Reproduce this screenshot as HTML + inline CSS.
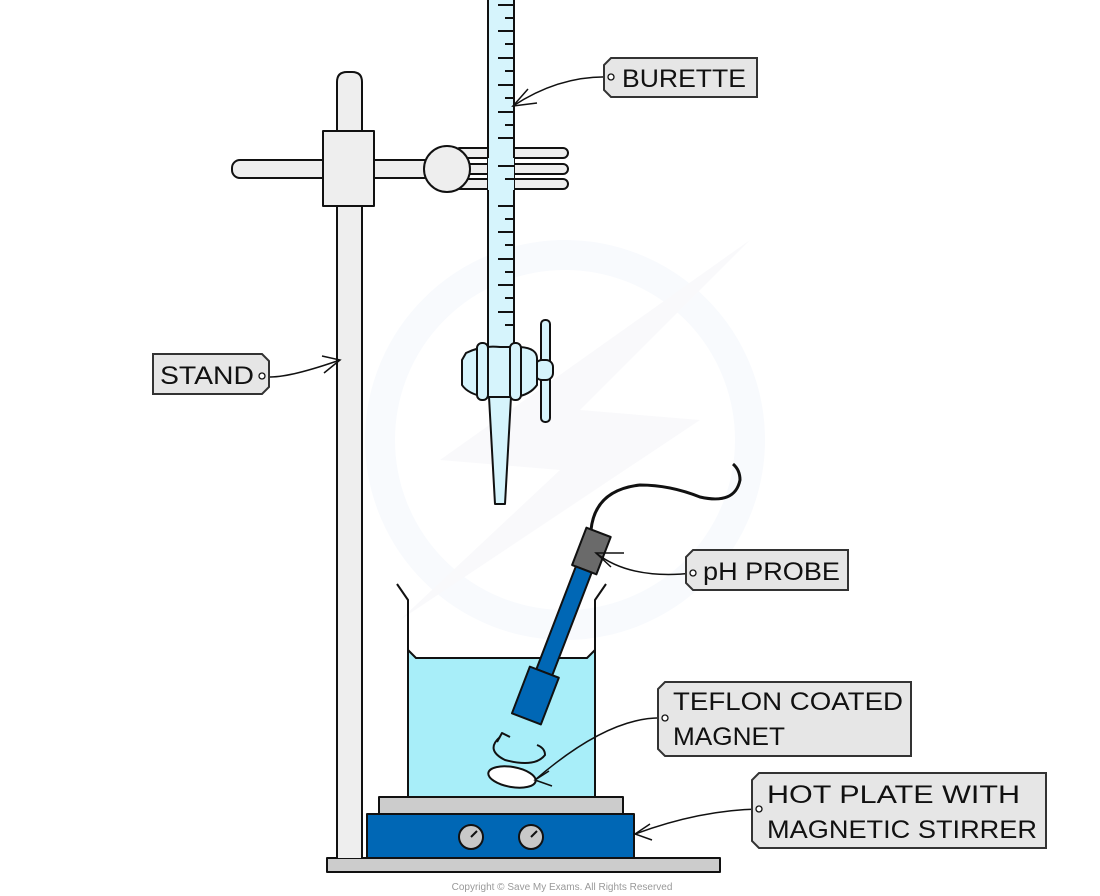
<!DOCTYPE html>
<html><head><meta charset="utf-8"><style>
html,body{margin:0;padding:0;background:#fff;}
svg{display:block;}
text{font-family:"Liberation Sans",sans-serif;}
</style></head><body>
<svg width="1100" height="896" viewBox="0 0 1100 896" xmlns="http://www.w3.org/2000/svg">
<!-- watermark -->
<circle cx="565" cy="440" r="185" fill="none" stroke="#f8fafd" stroke-width="30"/>
<path d="M750 240 L440 460 L560 470 L400 620 L700 420 L580 410 Z" fill="#f9f9fb"/>

<g stroke="#111" stroke-width="2" stroke-linejoin="round">
<rect x="327" y="858" width="393" height="14" fill="#cccccc"/>
<path d="M337 858 L337 82 Q337 72 347 72 L352 72 Q362 72 362 82 L362 858" fill="#eeeeee"/>
<rect x="232" y="160" width="200" height="18" rx="8" fill="#eeeeee"/>
<rect x="455" y="148" width="113" height="10" rx="5" fill="#eeeeee"/>
<rect x="455" y="164" width="113" height="10" rx="5" fill="#eeeeee"/>
<rect x="455" y="179" width="113" height="10" rx="5" fill="#eeeeee"/>
<rect x="488" y="-5" width="26" height="360" fill="#d6f4fc"/>
<rect x="488" y="158" width="26" height="32" fill="#d6f4fc" stroke="none"/>
<rect x="323" y="131" width="51" height="75" fill="#eeeeee"/>
<circle cx="447" cy="169" r="23" fill="#eeeeee"/>
<path d="M489 397 L495 504 L505 504 L511 397 Z" fill="#d6f4fc"/>
<rect x="541" y="320" width="9" height="102" rx="4" fill="#d6f4fc"/>
<rect x="535" y="360" width="18" height="20" rx="7" fill="#d6f4fc"/>
<path d="M466 353 Q482 345 500 347 L520 347 Q538 348 537 360 L537 385 Q530 395 515 397 L485 397 Q468 394 462 385 L462 360 Z" fill="#d6f4fc"/>
<rect x="477" y="343" width="11" height="57" rx="5" fill="#d6f4fc"/>
<rect x="510" y="343" width="11" height="57" rx="5" fill="#d6f4fc"/>
</g>
<g stroke="#111" stroke-width="2">
<line x1="498" y1="5" x2="514" y2="5"/><line x1="505" y1="18" x2="514" y2="18"/>
<line x1="498" y1="31" x2="514" y2="31"/><line x1="505" y1="44" x2="514" y2="44"/>
<line x1="498" y1="58" x2="514" y2="58"/><line x1="505" y1="71" x2="514" y2="71"/>
<line x1="498" y1="85" x2="514" y2="85"/><line x1="505" y1="98" x2="514" y2="98"/>
<line x1="498" y1="112" x2="514" y2="112"/><line x1="505" y1="125" x2="514" y2="125"/>
<line x1="498" y1="138" x2="514" y2="138"/><line x1="498" y1="166" x2="514" y2="166"/>
<line x1="505" y1="179" x2="514" y2="179"/><line x1="498" y1="206" x2="514" y2="206"/>
<line x1="505" y1="219" x2="514" y2="219"/><line x1="498" y1="232" x2="514" y2="232"/>
<line x1="505" y1="245" x2="514" y2="245"/><line x1="498" y1="259" x2="514" y2="259"/>
<line x1="505" y1="272" x2="514" y2="272"/><line x1="498" y1="285" x2="514" y2="285"/>
<line x1="505" y1="298" x2="514" y2="298"/><line x1="498" y1="312" x2="514" y2="312"/>
<line x1="505" y1="325" x2="514" y2="325"/>
</g>

<g stroke="#111" stroke-width="2" stroke-linejoin="round">
<path d="M408 650 L416 658 L587 658 L595 650 L595 797 L408 797 Z" fill="#a8eef9" stroke="none"/>
<path d="M397 584 L408 600 L408 797 L595 797 L595 600 L606 584" fill="none"/>
<path d="M408 650 L416 658 L587 658 L595 650" fill="none"/>
<rect x="379" y="797" width="244" height="17" fill="#cccccc"/>
<rect x="367" y="814" width="267" height="44" fill="#0067b5"/>
<circle cx="471" cy="837" r="12" fill="#c8c8c8"/>
<circle cx="531" cy="837" r="12" fill="#c8c8c8"/>
<line x1="471" y1="837" x2="477" y2="831"/><line x1="531" y1="837" x2="537" y2="831"/>
<ellipse cx="512" cy="777" rx="24" ry="10" transform="rotate(10 512 777)" fill="#fff"/>
<path d="M500 737 Q485 750 505 760 Q535 768 545 755 Q545 748 537 745" fill="none"/>
<path d="M497 742 L502 733 L510 737" fill="none"/>
<path d="M591 530 Q595 490 640 485 Q670 485 700 497 Q735 505 740 480 Q740 470 733 464" fill="none" stroke-width="3"/>
<g transform="rotate(21 560 630)">
<rect x="548" y="525" width="26" height="40" fill="#6a6a6a"/>
<rect x="552" y="565" width="17" height="110" fill="#0067b5"/>
<rect x="545" y="675" width="31" height="50" fill="#0067b5"/>
</g>
</g>

<g stroke="#111" stroke-width="1.5" fill="none">
<path d="M611 77 Q560 75 513 106"/><path d="M528 89 L513 106 L537 103"/>
<path d="M262 376 Q280 381 340 360"/><path d="M322 356 L340 360 L324 373"/>
<path d="M693 573 Q630 580 596 553"/><path d="M624 553 L596 553 L611 567"/>
<path d="M665 718 Q610 715 535 780"/><path d="M549 771 L535 780 L552 786"/>
<path d="M759 809 Q700 810 635 834"/><path d="M650 824 L635 834 L652 840"/>
</g>

<g stroke="#333" stroke-width="2" fill="#e6e6e6">
<path d="M611 58 L757 58 L757 97 L611 97 L604 90 L604 65 Z"/>
<path d="M160 354 L269 354 L269 394 L160 394 L153 387 L153 361 Z" transform="scale(-1 1) translate(-422 0)"/>
<path d="M693 550 L848 550 L848 590 L693 590 L686 583 L686 557 Z"/>
<path d="M665 682 L911 682 L911 756 L665 756 L658 749 L658 689 Z"/>
<path d="M759 773 L1046 773 L1046 848 L759 848 L752 841 L752 780 Z"/>
</g>
<g fill="#fff" stroke="#111" stroke-width="1.3">
<circle cx="611" cy="77" r="3"/><circle cx="262" cy="376" r="3"/><circle cx="693" cy="573" r="3"/>
<circle cx="665" cy="718" r="3"/><circle cx="759" cy="809" r="3"/>
</g>
<g font-size="25" fill="#111">
<text x="622" y="87" textLength="124" lengthAdjust="spacingAndGlyphs">BURETTE</text>
<text x="160" y="384" textLength="94" lengthAdjust="spacingAndGlyphs">STAND</text>
<text x="703" y="580" textLength="137" lengthAdjust="spacingAndGlyphs">pH  PROBE</text>
<text x="673" y="710" textLength="230" lengthAdjust="spacingAndGlyphs">TEFLON COATED</text>
<text x="673" y="745" textLength="112" lengthAdjust="spacingAndGlyphs">MAGNET</text>
<text x="767" y="803" textLength="253" lengthAdjust="spacingAndGlyphs">HOT  PLATE  WITH</text>
<text x="767" y="838" textLength="270" lengthAdjust="spacingAndGlyphs">MAGNETIC  STIRRER</text>
</g>
<text x="562" y="890" font-size="10" fill="#999" text-anchor="middle">Copyright © Save My Exams. All Rights Reserved</text>
</svg>
</body></html>
